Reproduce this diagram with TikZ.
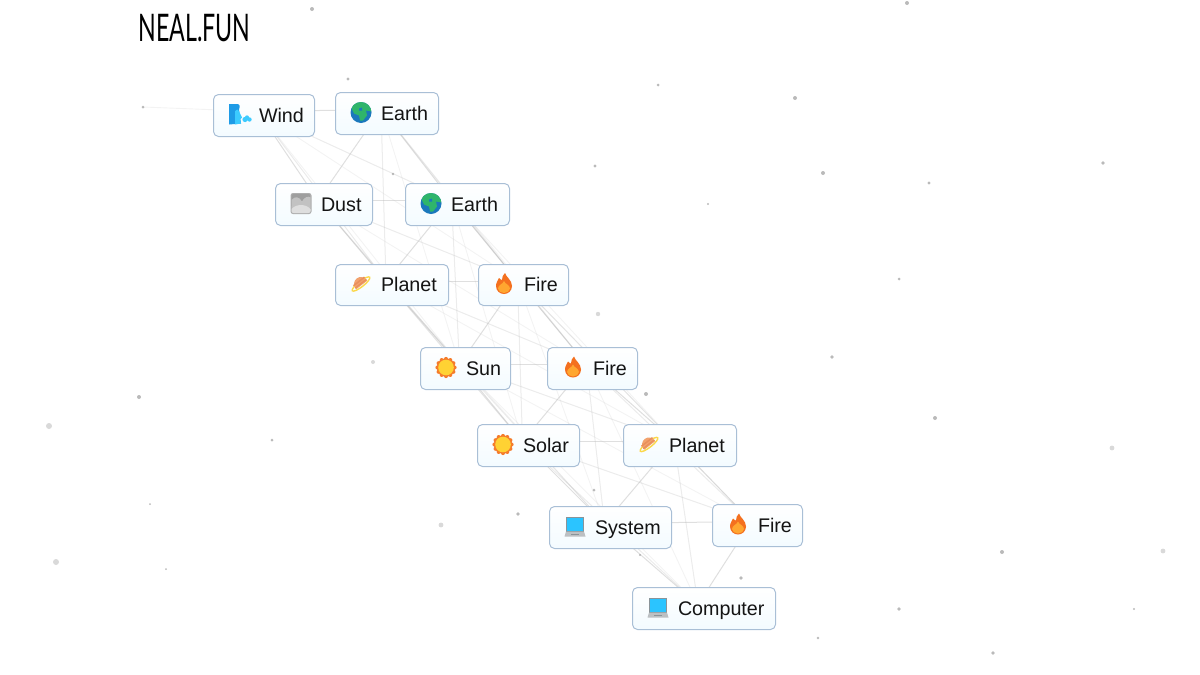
\documentclass[tikz,border=0pt]{standalone}
\usepackage{fontspec}
\setmainfont{Liberation Sans}
\newfontfamily\logofont{Lato}
\usetikzlibrary{backgrounds}
\definecolor{bord}{HTML}{A9BFD6}
\definecolor{tilebot}{HTML}{F3FBFF}
\definecolor{labelc}{HTML}{141414}
\definecolor{ocean}{HTML}{1B78BC}
\definecolor{land}{HTML}{2FB56B}
\definecolor{flameo}{HTML}{F4701F}
\definecolor{flamei}{HTML}{FFA630}
\definecolor{sunring}{HTML}{F57C2B}
\definecolor{sunface}{HTML}{FFD233}
\definecolor{planetc}{HTML}{F2A26E}
\definecolor{planetd}{HTML}{E98F5C}
\definecolor{ringc}{HTML}{FBD84B}
\definecolor{screenc}{HTML}{2BC4FF}
\definecolor{framec}{HTML}{8A9499}
\definecolor{basec}{HTML}{BCC0C3}
\definecolor{windd}{HTML}{1E9BE6}
\definecolor{windl}{HTML}{3CCBFF}
\tikzset{
  x=1pt,y=-1pt,
  tile/.style={draw=bord,line width=1pt,rounded corners=5pt,top color=white,bottom color=tilebot,inner xsep=0pt,inner ysep=0pt,text=labelc,font=\fontsize{19.7}{20}\selectfont,anchor=north west},
  near/.style={draw=black!30,line width=1pt,opacity=.42},
  midl/.style={draw=black!30,line width=1pt,opacity=.25},
  farl/.style={draw=black!25,line width=.9pt,opacity=.18},
  dot/.style={fill=black!45,draw=none,opacity=.6},
  pale/.style={fill=black!25,draw=none,opacity=.6},
  icearth/.pic={
    \fill[ocean] (0,0) circle (10.5);
    \begin{scope}
    \clip (0,0) circle (10.5);
    \fill[land] (-9,-7) -- (-3,-11) -- (5,-11) -- (11,-5) -- (11,-1) -- (5,-2) -- (6,3) -- (2,8) -- (-1,8) -- (-2,3) -- (-7,1) -- (-9,-3) -- cycle;
    \fill[ocean] (-2,-4) -- (1,-5) -- (1,-2) -- (-2,-2) -- cycle;
    \end{scope}},
  icsun/.pic={
    \foreach \a in {0,30,...,330}{\fill[sunring] (\a:8.6) circle (2);}
    \fill[sunring] (0,0) circle (9.2);
    \fill[sunface] (0,0) circle (7.8);},
  icfire/.pic={
    \fill[flameo] (1,-11) .. controls (2,-7) and (8,-4) .. (8,2) .. controls (8,7) and (4,10) .. (0,10) .. controls (-4,10) and (-8,7) .. (-8,2) .. controls (-8,-2) and (-6,-3) .. (-5,-6) .. controls (-4,-5) and (-3,-4) .. (-2,-4) .. controls (-2,-7) and (-1,-9) .. (1,-11) -- cycle;
    \fill[flamei] (0,-3) .. controls (1,0) and (6,1) .. (6,4.5) .. controls (6,7) and (3,9) .. (0,9) .. controls (-3,9) and (-6,7) .. (-6,4.5) .. controls (-6,1) and (-1,0) .. (0,-3) -- cycle;},
  icplanet/.pic={
    \begin{scope}[rotate=38]
    \draw[ringc,line width=1.4pt] (0,0) ellipse (11 and 2.8);
    \begin{scope}
    \clip (-8,-8) rectangle (8,1.2);
    \fill[planetc] (0,0) circle (7);
    \fill[planetd] (-7,-4) rectangle (7,-2.5);
    \fill[planetd] (-7,-1) rectangle (7,.3);
    \end{scope}
    \end{scope}},
  icdust/.pic={
    \fill[black!32,rounded corners=2.5pt] (-10.5,-10.5) rectangle (10.5,10.5);
    \begin{scope}
    \clip[rounded corners=2pt] (-9.5,-9.5) rectangle (9.5,9.5);
    \fill[black!38] (-10,-10) rectangle (10,2);
    \fill[black!24] (-10,-3) .. controls (-6,-8) and (-2,-7) .. (1,-2) .. controls (3,-6) and (7,-8) .. (10,-6) -- (10,10) -- (-10,10) -- cycle;
    \fill[black!13] (-10,6) .. controls (-5,0) and (5,0) .. (10,6) -- (10,10) -- (-10,10) -- cycle;
    \end{scope}},
  iclaptop/.pic={
    \fill[framec] (-9,-10) rectangle (9,6);
    \fill[screenc] (-8,-9) rectangle (8,4.5);
    \fill[basec] (-9,5) -- (9,5) -- (10.5,10) -- (-10.5,10) -- cycle;
    \fill[framec] (-4,7.8) rectangle (4,8.8);},
  icwind/.pic={
    \fill[windd] (-10,-10.5) -- (-2,-10.5) .. controls (1,-10.5) and (1,-8) .. (0,-5) -- (1,2) -- (2,9) -- (-10,10) -- cycle;
    \fill[windl] (-4,-3) .. controls (-2,-6) and (0,-5) .. (0,-3) -- (3,3) -- (1,5) -- (2,9) -- (-4,10) -- cycle;
    \fill[windl] (6,5) circle (2.6) (10.5,5) circle (2.2) (8,2.8) circle (2);},
}
\newcommand{\tilenode}[7]{% name x0 y0 x1 y1 icon label
  \pgfmathsetmacro{\tw}{#4-#2-1}\pgfmathsetmacro{\th}{#5-#3-1}
  \node[tile,minimum height=\th pt] (#1) at (#2,#3) {\makebox[\tw pt][l]{\hspace{45.5pt}\rule[-6pt]{0pt}{12pt}\raisebox{-7pt}{\smash{#7}}}};
  \pic at ([xshift=26pt,yshift=1pt]#1.west) {#6};
  \coordinate (#1-h) at ([xshift=-6pt,yshift=4pt]#1.center);
}
\begin{document}
\begin{tikzpicture}
\useasboundingbox (0,0) rectangle (1200,675);
\foreach \x/\y/\r in {312/9/2,907/3/2,348/79/1.6,143/107/1.5,658/85/1.5,795/98/2,595/166/1.6,393/174/1.3,823/173/2,929/183/1.6,1103/163/1.8,708/204/1.2,899/279/1.5,832/357/1.8,139/397/2,646/394/2,935/418/2,272/440/1.5,594/490/1.5,518/514/1.8,640/555/1.2,899/609/1.8,1134/609/1.2,818/638/1.4,993/653/1.8,150/504/1,166/569/1,741/578/1.8,1002/552/2}
  \fill[dot] (\x,\y) circle (\r);
\foreach \x/\y/\r in {598/314/2.2,373/362/2,49/426/3,1112/448/2.4,441/525/2.4,1163/551/2.4,56/562/3}
  \fill[pale] (\x,\y) circle (\r);
\node[anchor=center,inner sep=0pt,font=\logofont\fontsize{38}{38}\selectfont,text=black,xscale=.61,transform shape] (logo) at (194.5,28) {NEAL.FUN};
\coordinate (free) at (143,107);
\tilenode{wind}{213}{94}{315}{137}{icwind}{Wind}
\tilenode{ea}{335}{92}{439}{135}{icearth}{Earth}
\tilenode{dust}{275}{183}{373}{226}{icdust}{Dust}
\tilenode{eb}{405}{183}{510}{226}{icearth}{Earth}
\tilenode{pa}{335}{264}{449}{306}{icplanet}{Planet}
\tilenode{fa}{478}{264}{569}{306}{icfire}{Fire}
\tilenode{sun}{420}{347}{511}{390}{icsun}{Sun}
\tilenode{fb}{547}{347}{638}{390}{icfire}{Fire}
\tilenode{solar}{477}{424}{580}{467}{icsun}{Solar}
\tilenode{pb}{623}{424}{737}{467}{icplanet}{Planet}
\tilenode{sys}{549}{506}{672}{549}{iclaptop}{System}
\tilenode{fc}{712}{504}{803}{547}{icfire}{Fire}
\tilenode{comp}{632}{587}{776}{630}{iclaptop}{Computer}
\begin{scope}[on background layer]
\draw[farl] (free) -- (wind-h);
\foreach \a/\b in {wind/ea,dust/eb,pa/fa,sun/fb,solar/pb,sys/fc,
  wind/dust,ea/dust,ea/eb,dust/pa,eb/pa,eb/fa,pa/sun,fa/sun,fa/fb,sun/solar,fb/solar,fb/pb,solar/sys,pb/sys,pb/fc,sys/comp,fc/comp}
  \draw[near] (\a-h) -- (\b-h);
\foreach \a/\b in {wind/eb,dust/fa,pa/fb,sun/pb,solar/fc,wind/pa,dust/sun,pa/solar,sun/sys,solar/comp,ea/fa,eb/fb,fa/pb,fb/fc,ea/pa,eb/sun,fa/solar,fb/sys,pb/comp}
  \draw[midl] (\a-h) -- (\b-h);
\foreach \a/\b in {wind/sun,dust/solar,pa/sys,sun/comp,ea/fb,eb/pb,fa/fc,wind/fa,dust/fb,pa/pb,sun/fc,fb/comp,eb/solar,fa/sys,ea/sun}
  \draw[farl] (\a-h) -- (\b-h);
\end{scope}
\end{tikzpicture}
\end{document}
